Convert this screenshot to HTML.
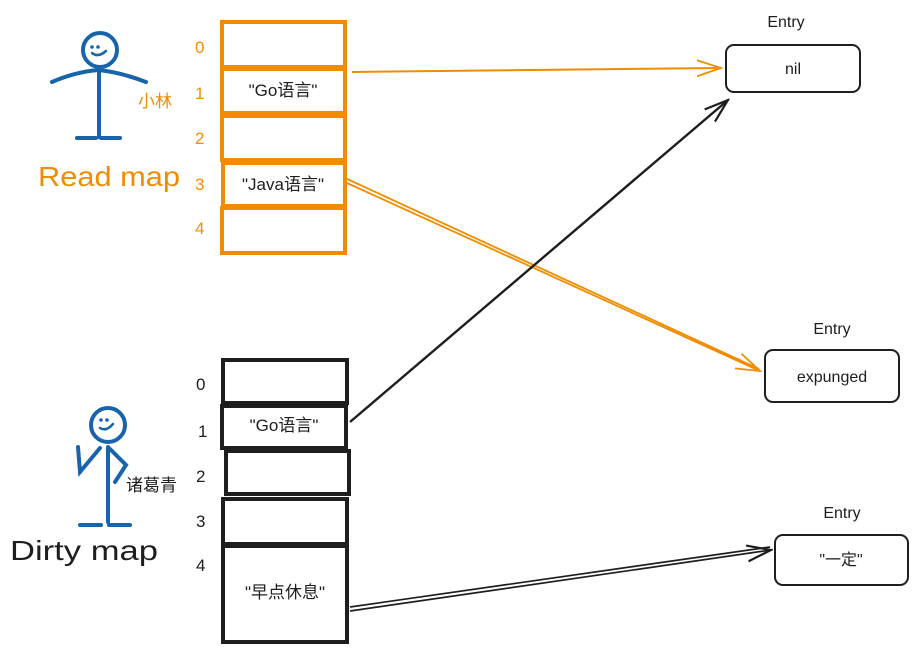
<!DOCTYPE html>
<html><head><meta charset="utf-8"><style>
html,body{margin:0;padding:0;background:#fff}
svg{display:block}
text{font-family:"Liberation Sans","Noto Sans CJK SC",sans-serif}
</style></head><body>
<svg width="918" height="654" viewBox="0 0 918 654" xmlns="http://www.w3.org/2000/svg">
<defs>
<marker id="ao" markerWidth="26" markerHeight="20" refX="24" refY="10" orient="auto" markerUnits="userSpaceOnUse"><path d="M0,2 L24,10 L0,18" fill="none" stroke="#f08c00" stroke-width="1.8"/></marker>
<marker id="ab" markerWidth="26" markerHeight="20" refX="24" refY="10" orient="auto" markerUnits="userSpaceOnUse"><path d="M0,2 L24,10 L0,18" fill="none" stroke="#1e1e1e" stroke-width="2.2"/></marker>
</defs>
<g stroke="#1864ab" stroke-width="4" fill="none" stroke-linecap="round">
<circle cx="100" cy="50" r="17"/>
<path d="M52,82 Q75,72 98,70 Q120,72 146,82"/>
<path d="M99,70 L99,137"/>
<path d="M77,138 L96,138 M101,138 L120,138"/>
<path d="M92,53 Q98,58 106,51" stroke-width="2.5"/>
</g>
<circle cx="92" cy="47" r="1.8" fill="#1864ab"/><circle cx="98" cy="47" r="1.8" fill="#1864ab"/>
<text x="138" y="107" font-size="17" fill="#f08c00">小林</text>
<text x="38" y="186" font-size="28" fill="#f08c00" textLength="142" lengthAdjust="spacingAndGlyphs">Read map</text>
<g fill="#f08c00" font-size="17">
<text x="195" y="53">0</text><text x="195" y="99">1</text><text x="195" y="144">2</text><text x="195" y="190">3</text><text x="195" y="234">4</text>
</g>
<g stroke="#f08c00" stroke-width="4" fill="none">
<rect x="222" y="22" width="123" height="45"/>
<rect x="222" y="69" width="123" height="44"/>
<rect x="222" y="116" width="123" height="44"/>
<rect x="223" y="163" width="122" height="43"/>
<rect x="222" y="208" width="123" height="45"/>
</g>
<text x="283" y="96" font-size="17" fill="#1e1e1e" text-anchor="middle">"Go语言"</text>
<text x="283" y="190" font-size="17" fill="#1e1e1e" text-anchor="middle">"Java语言"</text>
<g stroke="#1864ab" stroke-width="4" fill="none" stroke-linecap="round">
<circle cx="108" cy="425" r="17"/>
<path d="M78,447 L80,472 L100,448"/>
<path d="M108,447 L108,522"/>
<path d="M109,448 L126,465 L115,482"/>
<path d="M80,525 L101,525 M109,525 L130,525"/>
<path d="M100,428 Q106,432 113,424" stroke-width="2.5"/>
</g>
<circle cx="101" cy="420" r="1.8" fill="#1864ab"/><circle cx="107" cy="420" r="1.8" fill="#1864ab"/>
<text x="126" y="491" font-size="17" fill="#1e1e1e">诸葛青</text>
<text x="10" y="560" font-size="28" fill="#1e1e1e" textLength="148" lengthAdjust="spacingAndGlyphs">Dirty map</text>
<g fill="#1e1e1e" font-size="17">
<text x="196" y="390">0</text><text x="198" y="437">1</text><text x="196" y="482">2</text><text x="196" y="527">3</text><text x="196" y="571">4</text>
</g>
<g stroke="#1e1e1e" stroke-width="4" fill="none">
<rect x="223" y="360" width="124" height="43"/>
<rect x="222" y="406" width="124" height="42"/>
<rect x="226" y="451" width="123" height="43"/>
<rect x="223" y="499" width="124" height="45"/>
<rect x="223" y="546" width="124" height="96"/>
</g>
<text x="284" y="431" font-size="17" fill="#1e1e1e" text-anchor="middle">"Go语言"</text>
<text x="285" y="598" font-size="17" fill="#1e1e1e" text-anchor="middle">"早点休息"</text>
<g stroke="#1e1e1e" stroke-width="2" fill="none">
<rect x="726" y="45" width="134" height="47" rx="8"/>
<rect x="765" y="350" width="134" height="52" rx="8"/>
<rect x="775" y="535" width="133" height="50" rx="8"/>
</g>
<g fill="#1e1e1e" font-size="16" text-anchor="middle">
<text x="786" y="27">Entry</text><text x="793" y="74">nil</text>
<text x="832" y="334">Entry</text><text x="832" y="382">expunged</text>
<text x="842" y="518">Entry</text><text x="841" y="565">"一定"</text>
</g>
<path d="M352,72 L721,68" stroke="#f08c00" stroke-width="2" fill="none" marker-end="url(#ao)"/>
<path d="M345,178 L759,369" stroke="#f08c00" stroke-width="1.8" fill="none"/>
<path d="M347,183 L760,371" stroke="#f08c00" stroke-width="1.8" fill="none" marker-end="url(#ao)"/>
<path d="M350,422 L728,100" stroke="#1e1e1e" stroke-width="2.4" fill="none" marker-end="url(#ab)"/>
<path d="M350,607 L770,547" stroke="#1e1e1e" stroke-width="1.7" fill="none"/>
<path d="M350,611 L771,550" stroke="#1e1e1e" stroke-width="1.7" fill="none" marker-end="url(#ab)"/>
</svg>
</body></html>
